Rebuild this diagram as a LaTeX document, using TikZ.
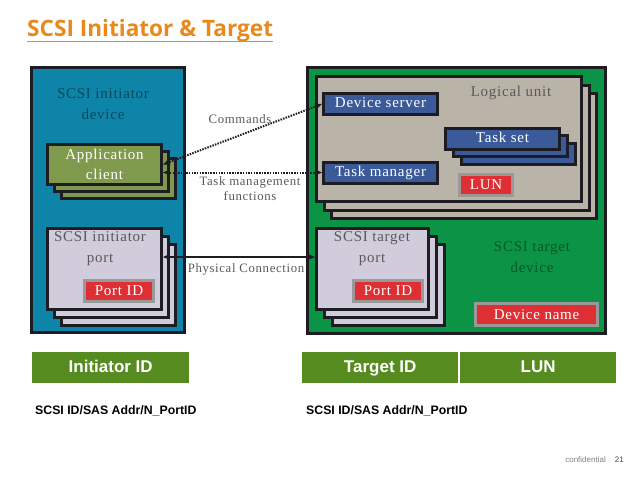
\documentclass[tikz,border=0pt]{standalone}
\usepackage{fontspec}
\setmainfont{Liberation Serif}
\newfontfamily\arialfont{Liberation Sans}
\newfontfamily\palfont[LetterSpace=5]{Liberation Serif}
\newfontfamily\titlefont{Open Sans}
\usetikzlibrary{arrows.meta}
\definecolor{teal1}{HTML}{0E84A8}
\definecolor{green1}{HTML}{0B9346}
\definecolor{olive1}{HTML}{7F9A4C}
\definecolor{lilac1}{HTML}{D0CCDC}
\definecolor{stone1}{HTML}{B9B3A8}
\definecolor{navy1}{HTML}{3A5A9A}
\definecolor{red1}{HTML}{DE2F35}
\definecolor{bar1}{HTML}{558B1F}
\definecolor{ink}{HTML}{1C1C22}
\definecolor{title1}{HTML}{E8891C}
\tikzstyle{panel} = [rectangle, draw=ink, line width=3pt, anchor=north west, inner sep=0pt]
\tikzstyle{client} = [panel, fill=olive1, minimum width=114pt, minimum height=40pt, text=white, font=\palfont\fontsize{15}{20}\selectfont, align=center]
\tikzstyle{port} = [panel, fill=lilac1, minimum height=81pt]
\tikzstyle{unit} = [panel, fill=stone1, minimum width=265pt, minimum height=125pt]
\tikzstyle{task} = [panel, fill=navy1, minimum width=114pt, minimum height=21pt, text=white, text height=10pt, text depth=3pt, font=\palfont\fontsize{15}{17}\selectfont]
\tikzstyle{tag} = [rectangle, draw=black!40, line width=3pt, fill=red1, anchor=north west, inner sep=0pt, text=white, minimum height=21pt, font=\palfont\fontsize{15}{17}\selectfont]
\tikzstyle{lbl} = [text=black!65, font=\palfont\fontsize{12.8}{15}\selectfont, align=center, inner sep=0pt]
\tikzstyle{head} = [text=black!65, font=\palfont\fontsize{15}{21}\selectfont, align=center, inner sep=0pt]
\tikzstyle{bar} = [rectangle, fill=bar1, anchor=north west, inner sep=0pt, minimum height=31pt, text=white, text height=12pt, text depth=3pt, font=\arialfont\bfseries\fontsize{17}{19}\selectfont]
\tikzstyle{note} = [anchor=west, inner sep=0pt, text=black, font=\arialfont\bfseries\fontsize{12.3}{14}\selectfont]
\tikzstyle{link} = [line width=2pt, ink, {Stealth[length=7pt,width=6pt]}-{Stealth[length=7pt,width=6pt]}]
\tikzstyle{dots} = [dash pattern=on 1.5pt off 1.2pt]
\begin{document}
\begin{tikzpicture}[x=1pt,y=-1pt]
\useasboundingbox (0,0) rectangle (638,479);
\node (title) [anchor=west, inner sep=0pt, text=title1, font=\titlefont\bfseries\fontsize{22.6}{26}\selectfont] at (27,31) {SCSI Initiator \& Target};
\draw [title1, line width=1.5pt] ([yshift=1pt]title.south west) -- ([yshift=1pt]title.south east);

% initiator side
\node (initdev) [panel, fill=teal1, minimum width=153pt, minimum height=265pt] at (30,66) {};
\node (initname) [head, text=teal1!55!black] at (103,104) {SCSI initiator\\device};
\node (app3) [client] at (60,157) {};
\node (app2) [client] at (53,150) {};
\node (app) [client] at (46,143) {Application\\client};
\node (iport3) [port, minimum width=114pt] at (60,243) {};
\node (iport2) [port, minimum width=114pt] at (53,235) {};
\node (iport) [port, minimum width=114pt] at (46,227) {};
\node (iportname) [head] at (100,249) {SCSI initiator\\port};
\node (iportid) [tag, minimum width=69pt] at (83,279) {Port ID};

% target side
\node (targdev) [panel, fill=green1, minimum width=298pt, minimum height=266pt] at (306,66) {};
\node (unit3) [unit] at (330,92) {};
\node (unit2) [unit] at (323,84) {};
\node (unit) [unit] at (315,75) {};
\node (unitname) [head] at (511,93) {Logical unit};
\node (server) [task] at (322,92) {Device server};
\node (manager) [task] at (322,161) {Task manager};
\node (set3) [task] at (460,142) {};
\node (set2) [task] at (452,134) {};
\node (set) [task] at (444,127) {Task set};
\node (lun) [tag, minimum width=53pt] at (458,173) {LUN};
\node (tport3) [port, minimum width=112pt] at (331,243) {};
\node (tport2) [port, minimum width=112pt] at (323,235) {};
\node (tport) [port, minimum width=112pt] at (315,227) {};
\node (tportname) [head] at (372,249) {SCSI target\\port};
\node (tportid) [tag, minimum width=69pt] at (352,279) {Port ID};
\node (targname) [head, text=green1!60!black] at (532,257) {SCSI target\\device};
\node (devname) [tag, minimum width=122pt, minimum height=22pt] at (474,302) {Device name};

% connections
\coordinate (appb) at ([yshift=-8pt]app.east);
\coordinate (iportb) at ([yshift=12pt]iport.east);
\draw [link, dots] (app.east) -- (server.west);
\draw [link, dots] (appb) -- (appb -| manager.west);
\draw [link] (iportb) -- (iportb -| tport.west);
\node (commands) [lbl] at (240,119) {Commands};
\node (taskfn) [lbl] at (250,189) {Task management\\functions};
\node (phys) [lbl] at (246,269) {Physical Connection};

% bottom row
\node (initid) [bar, minimum width=157pt] at (32,352) {Initiator ID};
\node (targid) [bar, minimum width=156pt] at (302,352) {Target ID};
\node (lunid) [bar, minimum width=156pt] at (460,352) {LUN};
\node (initaddr) [note] at (35,411) {SCSI ID/SAS Addr/N\_PortID};
\node (targaddr) [note] at (306,411) {SCSI ID/SAS Addr/N\_PortID};
\node (conf) [anchor=east, inner sep=0pt, text=black!50, font=\arialfont\fontsize{8}{10}\selectfont] at (606,460) {confidential};
\node (pagenum) [anchor=east, inner sep=0pt, text=black!70, font=\arialfont\fontsize{8}{10}\selectfont] at (624,460) {21};
\end{tikzpicture}
\end{document}
